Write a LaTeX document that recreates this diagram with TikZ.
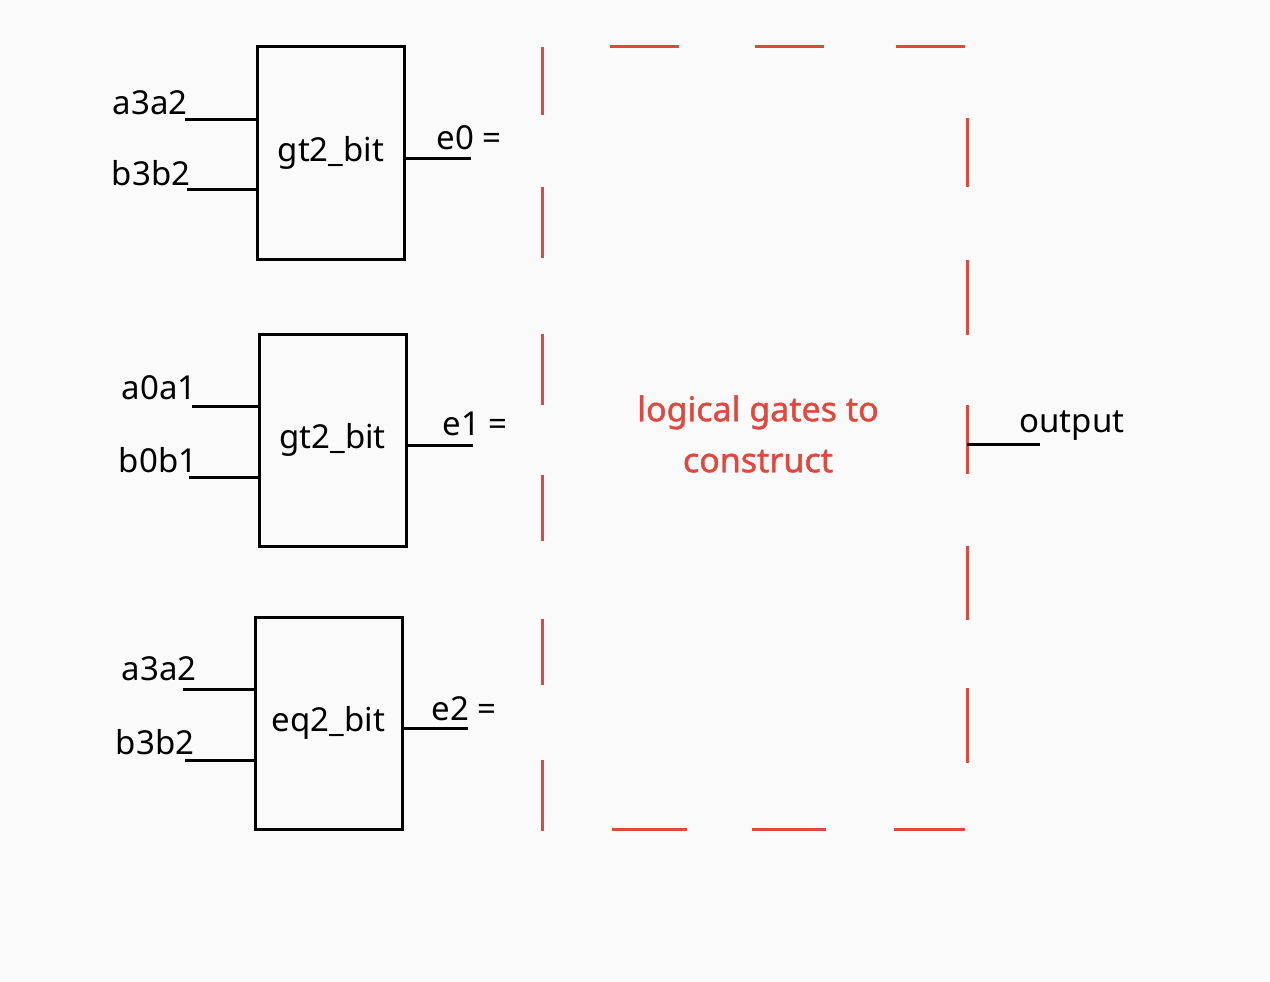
\documentclass[tikz,border=0pt]{standalone}
\usepackage{fontspec}
\setmainfont{Noto Sans}
\newfontfamily\boldred{Noto Sans}[FakeBold=1.2]
\definecolor{rd}{RGB}{222,72,62}
\begin{document}
\begin{tikzpicture}[x=1pt,y=-1pt,
  blk/.style={draw,line width=3pt,minimum width=147pt,minimum height=212pt,inner sep=0,font=\fontsize{33}{38}\selectfont},
  lbl/.style={font=\fontsize{33}{38}\selectfont,inner sep=0},
  wire/.style={line width=3pt},
  rdl/.style={draw=rd,line width=3pt}]
\fill[white!98!black] (0,0) rectangle (1270,982);
\useasboundingbox (0,0) rectangle (1270,982);
\node[blk] (g1) at (331,153) {gt2\_bit};
\node[blk] (g2) at (332.5,440) {gt2\_bit};
\node[blk] (g3) at (328.5,723) {eq2\_bit};
% inputs
\coordinate (i1a) at (185,119); \coordinate (i1b) at (187,189);
\coordinate (i2a) at (192,406); \coordinate (i2b) at (189,477);
\coordinate (i3a) at (183,689); \coordinate (i3b) at (185,760);
\draw[wire] (i1a) -- (i1a -| g1.west); \draw[wire] (i1b) -- (i1b -| g1.west);
\draw[wire] (i2a) -- (i2a -| g2.west); \draw[wire] (i2b) -- (i2b -| g2.west);
\draw[wire] (i3a) -- (i3a -| g3.west); \draw[wire] (i3b) -- (i3b -| g3.west);
\node[lbl] (l1) at (150,103) {a3a2}; \node[lbl] (l2) at (151,173) {b3b2};
\node[lbl] (l3) at (159,388) {a0a1}; \node[lbl] (l4) at (158,460) {b0b1};
\node[lbl] (l5) at (159,669) {a3a2}; \node[lbl] (l6) at (155,742) {b3b2};
% outputs
\coordinate (o1) at (471,158); \coordinate (o2) at (473,445); \coordinate (o3) at (468,728);
\draw[wire] (g1.east |- o1) -- (o1);
\draw[wire] (g2.east |- o2) -- (o2);
\draw[wire] (g3.east |- o3) -- (o3);
\node[lbl] (e0) at (469,138) {e0 =};
\node[lbl] (e1) at (475,424) {e1 =};
\node[lbl] (e2) at (464,709) {e2 =};
% red dashed box
\foreach \a/\b in {47/115,187/258,334/405,475/541,619/685,760/831} \draw[rdl] (542,\a) -- (542,\b);
\foreach \a/\b in {118/187,260/335,405/474,546/620,688/763} \draw[rdl] (967,\a) -- (967,\b);
\foreach \a/\b in {610/679,755/824,896/965} \draw[rdl] (\a,47) -- (\b,47);
\foreach \a/\b in {612/687,752/826,894/965} \draw[rdl] (\a,829) -- (\b,829);
\node[lbl,text=rd,align=center,font=\fontsize{34}{51}\boldred] (lg) at (758,434) {logical gates to\\construct};
\coordinate (out) at (1040,444);
\draw[wire] (967,444) -- (out);
\node[lbl] (ot) at (1072,426) {output};
\end{tikzpicture}
\end{document}
